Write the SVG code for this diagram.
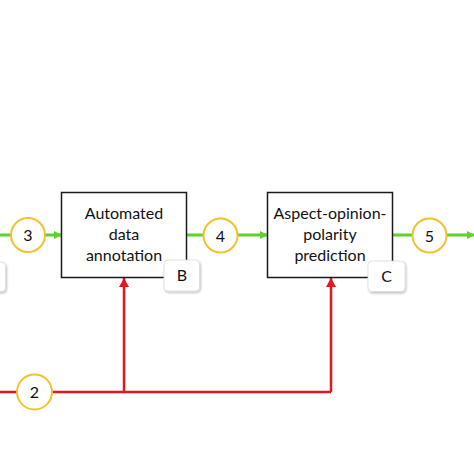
<svg xmlns="http://www.w3.org/2000/svg" width="474" height="474" viewBox="0 0 474 474">
<style>
.box{fill:#fff;stroke:#1a1a1a;stroke-width:1.5}
.circ{fill:#fff;stroke:#F2C12E;stroke-width:2}
.tag{fill:#fff;stroke:#d9d9d9;stroke-width:0.8}
.t{font-family:Lato,"Open Sans","Liberation Sans",sans-serif;font-size:16px;fill:#111;text-anchor:middle}
.g{stroke:#5FD12B;stroke-width:3;fill:none}
.r{stroke:#E3161B;stroke-width:2.5;fill:none}
</style>
<defs>
<marker id="ag" markerWidth="8" markerHeight="8" refX="7" refY="4" orient="auto" markerUnits="userSpaceOnUse">
<path d="M0,0 L8,4 L0,8 Z" fill="#5FD12B"/>
</marker>
<marker id="ar" markerWidth="9" markerHeight="10" refX="9" refY="5" orient="auto" markerUnits="userSpaceOnUse">
<path d="M0,0 L9,5 L0,10 Z" fill="#E3161B"/>
</marker>
<filter id="sh" x="-30%" y="-30%" width="160%" height="160%">
<feDropShadow dx="1" dy="1.5" stdDeviation="1.2" flood-color="#000" flood-opacity="0.25"/>
</filter>
</defs>
<rect width="474" height="474" fill="#fff"/>
<g id="connectors">
<line class="g" x1="0" y1="235" x2="12" y2="235"/>
<line class="g" x1="44" y1="235" x2="61" y2="235" marker-end="url(#ag)"/>
<line class="g" x1="187" y1="235" x2="204" y2="235"/>
<line class="g" x1="237" y1="235" x2="267" y2="235" marker-end="url(#ag)"/>
<line class="g" x1="393" y1="235" x2="413" y2="235"/>
<line class="g" x1="446" y1="235" x2="474" y2="235" marker-end="url(#ag)"/>
<polyline class="r" points="0,392 331,392"/>
<line class="r" x1="124" y1="392" x2="124" y2="278" marker-end="url(#ar)"/>
<line class="r" x1="331" y1="392" x2="331" y2="278" marker-end="url(#ar)"/>
</g>
<g id="nodeB">
<rect class="box" x="61.5" y="192.5" width="125" height="85"/>
<text class="t" x="124" y="219">Automated</text>
<text class="t" x="124" y="240">data</text>
<text class="t" x="124" y="261">annotation</text>
</g>
<g id="nodeC">
<rect class="box" x="267.5" y="192.5" width="125" height="85"/>
<text class="t" x="330" y="219">Aspect-opinion-</text>
<text class="t" x="330" y="240">polarity</text>
<text class="t" x="330" y="261">prediction</text>
</g>
<g id="tagLeft">
<rect class="tag" x="-30" y="262" width="35.5" height="29.5" rx="4" filter="url(#sh)"/>
</g>
<g id="tagB">
<rect class="tag" x="164" y="260" width="35.5" height="31" rx="4" filter="url(#sh)"/>
<text class="t" x="182" y="281">B</text>
</g>
<g id="tagC">
<rect class="tag" x="368" y="261" width="37" height="30.5" rx="4" filter="url(#sh)"/>
<text class="t" x="386.5" y="282">C</text>
</g>
<g id="circle3">
<circle class="circ" cx="28" cy="235" r="17"/>
<text class="t" x="28" y="241">3</text>
</g>
<g id="circle4">
<circle class="circ" cx="220.5" cy="235.5" r="17"/>
<text class="t" x="220.5" y="241.5">4</text>
</g>
<g id="circle5">
<circle class="circ" cx="429.5" cy="235.5" r="17"/>
<text class="t" x="429.5" y="241.5">5</text>
</g>
<g id="circle2">
<circle class="circ" cx="34.5" cy="392" r="17.5"/>
<text class="t" x="34.5" y="398">2</text>
</g>
</svg>
